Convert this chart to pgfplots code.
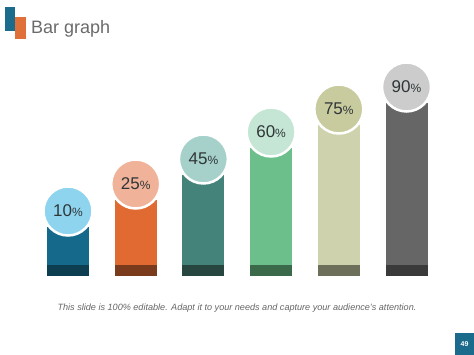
\documentclass[border=0pt]{standalone}
\usepackage{pgfplots}
\pgfplotsset{compat=1.18}
\usepackage{fontspec}
\setmainfont{Liberation Sans}
\definecolor{logoblue}{HTML}{1B6B8C}
\definecolor{logoorange}{HTML}{E0703A}
\definecolor{titlegray}{HTML}{6B6B6B}
\definecolor{footgray}{HTML}{666666}
\definecolor{labeltext}{HTML}{2F3638}
% bar, dark band, circle
\definecolor{cA}{HTML}{15698A}\definecolor{cAd}{HTML}{0C3D50}\definecolor{cAl}{HTML}{8FD4EF}
\definecolor{cB}{HTML}{E06A32}\definecolor{cBd}{HTML}{7A3A1C}\definecolor{cBl}{HTML}{F0B39A}
\definecolor{cC}{HTML}{44837A}\definecolor{cCd}{HTML}{27463F}\definecolor{cCl}{HTML}{A6D1CB}
\definecolor{cD}{HTML}{6CBF8A}\definecolor{cDd}{HTML}{3A6A4A}\definecolor{cDl}{HTML}{C5E6D5}
\definecolor{cE}{HTML}{CFD3AD}\definecolor{cEd}{HTML}{6E6F5A}\definecolor{cEl}{HTML}{C8CB9E}
\definecolor{cF}{HTML}{666666}\definecolor{cFd}{HTML}{3A3A3A}\definecolor{cFl}{HTML}{CCCCCC}
\pgfplotsset{
  barsty/.style={ybar, bar width=42pt, bar shift=0pt, draw=none, fill=#1},
  circsty/.style={only marks, mark=*, mark size=24.5pt,
    mark options={fill=#1, draw=white, line width=2.5pt, yshift=16pt},
    point meta=explicit,
    nodes near coords={\pgfmathprintnumber[assume math mode=true]{\pgfplotspointmeta}{\fontsize{12}{12}\selectfont\%}},
    nodes near coords align={center},
    every node near coord/.style={anchor=center, inner sep=0pt,
      text=labeltext, font=\fontsize{17}{17}\selectfont}},
}
\begin{document}
\begin{tikzpicture}[x=1pt,y=1pt]
\useasboundingbox (0,0) rectangle (474,-355);
\fill[white] (0,0) rectangle (474,-355);
\fill[logoblue] (5,-7) rectangle (15,-31);
\fill[logoorange] (15,-17) rectangle (26,-39);
\node[anchor=base west, text=titlegray, font=\fontsize{18}{20}\selectfont, inner sep=0pt] at (31,-34) {Bar graph};
\begin{axis}[at={(0,-276)}, anchor=south west, scale only axis,
  width=474pt, height=276pt,
  xmin=-1.0044, xmax=5.997, ymin=0, ymax=276,
  axis lines=none, clip=false]
% bar heights (px above the base) and shown percentages
\addplot[barsty=cA] coordinates {(0,49)};
\addplot[barsty=cB] coordinates {(1,76)};
\addplot[barsty=cC] coordinates {(2,101)};
\addplot[barsty=cD] coordinates {(3,128)};
\addplot[barsty=cE] coordinates {(4,151)};
\addplot[barsty=cF] coordinates {(5,173)};
% dark bands at the foot of each bar
\addplot[barsty=cAd] coordinates {(0,11)};
\addplot[barsty=cBd] coordinates {(1,11)};
\addplot[barsty=cCd] coordinates {(2,11)};
\addplot[barsty=cDd] coordinates {(3,11)};
\addplot[barsty=cEd] coordinates {(4,11)};
\addplot[barsty=cFd] coordinates {(5,11)};
% value circles
\addplot[circsty=cAl] coordinates {(0,49) [10]};
\addplot[circsty=cBl] coordinates {(1,76) [25]};
\addplot[circsty=cCl] coordinates {(2,101) [45]};
\addplot[circsty=cDl] coordinates {(3,128) [60]};
\addplot[circsty=cEl] coordinates {(4,151) [75]};
\addplot[circsty=cFl] coordinates {(5,173) [90]};
\end{axis}
\node[font=\itshape\fontsize{9.1}{10}\selectfont, text=footgray, inner sep=0pt] at (237,-308) {This slide is 100\% editable. Adapt it to your needs and capture your audience's attention.};
\fill[logoblue] (455,-333) rectangle (474,-355);
\node[text=white, font=\bfseries\fontsize{7}{8}\selectfont, inner sep=0pt] at (464.5,-344) {49};
\end{tikzpicture}
\end{document}
